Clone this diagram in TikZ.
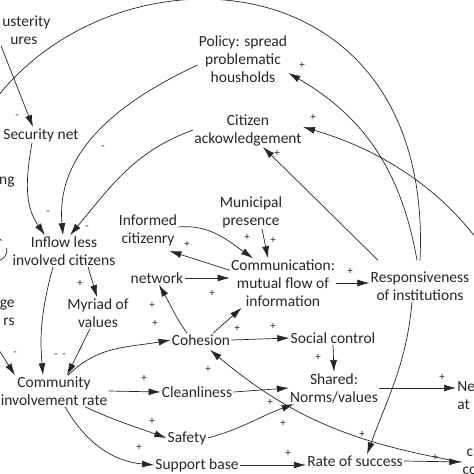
\documentclass[tikz,border=0pt]{standalone}
\usepackage{fontspec}
\setmainfont{Carlito}
\usetikzlibrary{arrows.meta}

\begin{document}
\begin{tikzpicture}[
    x=1pt, y=1pt,
    line width=0.7pt, black!85,
    >={Latex[length=12pt,width=7pt]},
    every node/.style={align=center, inner sep=1pt, font=\fontsize{15.5}{18}\selectfont},
    factor/.style={},
    cut/.style={},
    sign/.style={font=\fontsize{11}{11}\selectfont, inner sep=0pt}
]
    \useasboundingbox (0,0) rectangle (474,-474);

    % Factors cut off at the borders
    \node[cut, anchor=west, align=left] (aust) at (1,-30) {usterity\\\hspace*{8pt}ures};
    \node[cut, anchor=east] (ng) at (16,-182) {ng};
    \node[cut, anchor=east, align=right] (gers) at (16,-313) {ge\\rs};
    \node[cut, anchor=west, align=left] (ne) at (456,-396) {Ne\\at};
    \node[cut] (cnode) at (470,-462) {c\\co};
    \coordinate (offleft) at (-30,-140);
    \coordinate (offright) at (490,-258);

    % Factors
    \node[factor] (secnet) at (41,-135) {Security net};
    \node[factor] (policy) at (243,-59) {Policy: spread\\problematic\\housholds};
    \node[factor] (citizen) at (248,-130) {Citizen\\ackowledgement};
    \node[factor] (inflow) at (64,-251) {Inflow less\\involved citizens};
    \node[factor] (myriad) at (98,-313) {Myriad of\\values};
    \node[factor] (community) at (54,-391) {Community\\involvement rate};
    \node[factor] (informed) at (148,-230) {Informed\\citizenry};
    \node[factor] (municipal) at (251,-212) {Municipal\\presence};
    \node[factor] (network) at (157,-278) {network};
    \node[factor] (comm) at (283,-283) {Communication:\\mutual flow of\\information};
    \node[factor] (resp) at (420,-286) {Responsiveness\\of institutions};
    \node[factor] (cohesion) at (201,-340) {Cohesion};
    \node[factor] (social) at (333,-338) {Social control};
    \node[factor] (cleanliness) at (197,-392) {Cleanliness};
    \node[factor] (shared) at (334,-388) {Shared:\\Norms/values};
    \node[factor] (safety) at (187,-438) {Safety};
    \node[factor] (support) at (197,-465) {Support base};
    \node[factor] (rate) at (355,-461) {Rate of success};

    % Loop mark at the left border
    \draw[->] (-4,-250) ++(170:11) arc[start angle=170, end angle=55, radius=11];
    \draw (-4,-250) ++(10:11) arc[start angle=10, end angle=-110, radius=11];

    % Arrows
    \draw[->] (aust.south west) -- ([xshift=-8pt]secnet.north);
    \draw[->] ([xshift=-9pt]secnet.south) to[out=-100, in=125] ([xshift=-19pt]inflow.north);
    \draw[->] ([yshift=-6pt]policy.west) to[out=205, in=95] ([xshift=-1pt]inflow.north);
    \draw[->] (citizen.west) to[out=200, in=50] ([xshift=6pt]inflow.north);
    \draw[->] ([xshift=24pt]inflow.south) -- ([xshift=-1pt]myriad.north);
    \draw[->] ([xshift=-11pt]inflow.south) to[out=-105, in=95] ([xshift=-11pt]community.north);
    \draw[->] ([xshift=-8pt]myriad.south) -- ([xshift=13pt]community.north);
    \draw[->] ([xshift=-14pt]gers.south west) -- ([xshift=-39pt]community.north);
    \draw[->] ([xshift=14pt]community.north) to[out=45, in=190] (cohesion.west);
    \draw[->] (community.east) -- (cleanliness.west);
    \draw[->] ([xshift=31pt]community.south) to[out=-25, in=160] (safety.west);
    \draw[->] ([xshift=11pt]community.south) to[out=-60, in=175] (support.west);
    \draw[->] ([xshift=-14pt]cohesion.north) to[out=125, in=-60] ([xshift=2pt]network.south);
    \draw[->] ([xshift=12pt]cohesion.north) -- ([xshift=12pt]comm.south west);
    \draw[->] (network.east) -- (network.east -| comm.west);
    \draw[->] (cohesion.east) -- (social.west);
    \draw[->] (social.south) -- (shared.north);
    \draw[->] (cleanliness.east) -- (shared.west);
    \draw[->] (safety.east) to[out=15, in=200] ([xshift=5pt]shared.south west);
    \draw[->] (cnode.west) to[out=170, in=-40] ([shift={(9pt,-3pt)}]cohesion.south);
    \draw[->] (rate.east) -- (cnode.west);
    \draw[->] ([xshift=-8pt]resp.south) to[out=-95, in=70] ([xshift=12pt]rate.north);
    \draw[->] (support.east) -- (support.east -| rate.west);
    \draw[->] (shared.east) -- (shared.east -| ne.west);
    \draw[->] ([yshift=3pt]informed.east) to[out=5, in=145] ([xshift=-30pt]comm.north);
    \draw[->] ([xshift=11pt]municipal.south) -- ([xshift=-15pt]comm.north);
    \draw[->] ([yshift=-12pt]comm.north west) -- ([shift={(-9pt,-4pt)}]informed.south east);
    \draw[->] (comm.east) -- (comm.east -| resp.west);
    \draw[->] ([shift={(-42pt,10pt)}]resp.north) -- ([xshift=15pt]citizen.south);
    \draw[->] ([shift={(-3pt,10pt)}]resp.north) to[out=100, in=-30] ([yshift=-14pt]policy.east);
    \draw[->] ([yshift=10pt]resp.north) .. controls (435,62) and (80,62) .. (offleft);
    \draw[->] (offright) .. controls (440,-180) and (365,-145) .. ([yshift=3pt]citizen.east);

    % Polarities
    \foreach \x/\y/\s [count=\i] in {17/117/-, 48/213/-, 103/148/-, 87/228/-, 80/283/+,
        15/354/-, 56/356/-, 64/356/-, 155/323/+, 144/378/+, 152/421/+, 139/447/+,
        152/305/+, 237/328/+, 212/293/+, 273/326/+, 318/357/+, 270/402/+, 283/423/+,
        208/369/+, 435/457/+, 362/434/+, 288/453/+, 442/377/+, 247/237/+, 273/240/+,
        187/244/+, 350/271/+, 277/153/+, 302/65/+, 313/117/+}
        \node[sign] (sign\i) at (\x,-\y) {\s};

\end{tikzpicture}
\end{document}
